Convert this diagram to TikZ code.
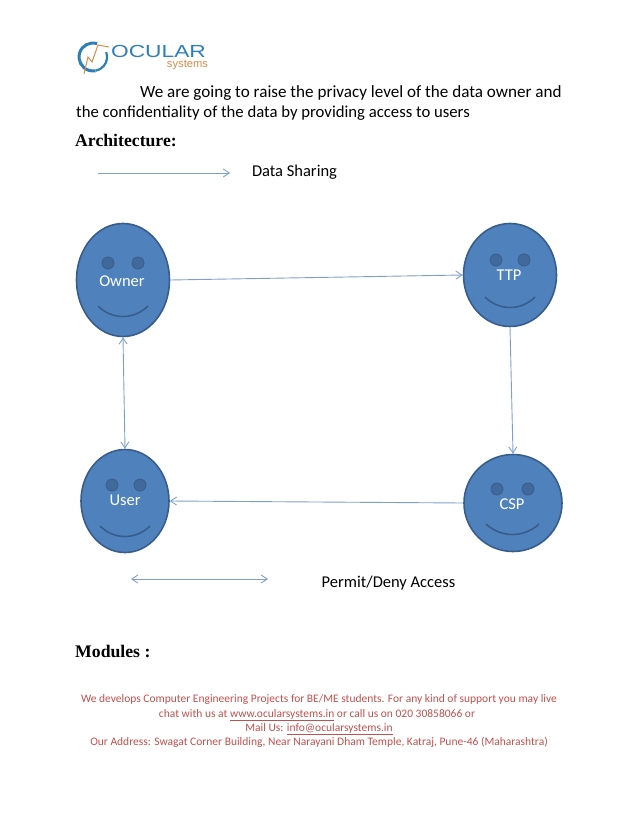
\documentclass[tikz,border=0pt]{standalone}
\usepackage{fontspec}
\setmainfont{Carlito}
\newfontfamily\headfont{Liberation Serif}
\newfontfamily\logofont{Liberation Sans}
\usetikzlibrary{shapes.geometric,arrows.meta}
\definecolor{facefill}{HTML}{4F81BD}
\definecolor{faceline}{HTML}{385D8A}
\definecolor{eyefill}{HTML}{41699B}
\definecolor{linkcol}{HTML}{7F9FCB}
\definecolor{footcol}{HTML}{C0504D}
\definecolor{logoblue}{HTML}{2C7FB8}
\definecolor{logoorange}{HTML}{D98B4A}
\tikzset{
	face/.style={ellipse,draw=faceline,fill=facefill,line width=1.6pt,inner sep=0pt},
	eye/.style={circle,draw=faceline,fill=eyefill,line width=0.8pt,minimum width=10pt,minimum height=12pt,inner sep=0pt},
	smile/.style={draw=faceline,line width=1.6pt},
	facelabel/.style={text=white,font=\fontsize{16.5}{18}\selectfont},
	link/.style={draw=linkcol,line width=0.9pt,-{Straight Barb[length=6pt,width=8pt]}},
	bothlink/.style={draw=linkcol,line width=0.9pt,{Straight Barb[length=6pt,width=8pt]}-{Straight Barb[length=6pt,width=8pt]}},
	bodyline/.style={anchor=base west,inner sep=0pt,font=\fontsize{17.1}{20}\selectfont},
	headline/.style={anchor=base west,inner sep=0pt,font=\headfont\bfseries\fontsize{17.7}{20}\selectfont},
	legendtext/.style={inner sep=0pt,font=\fontsize{16.5}{18}\selectfont},
	footline/.style={anchor=base,inner sep=0pt,text=footcol,font=\fontsize{11.5}{14}\selectfont}
}
\begin{document}
\begin{tikzpicture}[x=1pt,y=-1pt]
	\useasboundingbox (0,0) rectangle (638,826);
	% logo
	\draw [logoblue,line width=3pt] (97.1,43.6) arc (-73:-280:14);
	\draw [logoblue,line width=2.2pt] (106.2,52.2) arc (-20:80:14);
	\draw [logoorange,line width=1pt] (84,74) -- (88,57) -- (92,62) -- (98,45) -- (109,47);
	\node (logomain) at (158.5,51) [inner sep=0pt,xscale=1.3,text=logoblue,font=\logofont\fontsize{17.5}{20}\selectfont] {OCULAR};
	\node (logosub) at (187.5,65.5) [inner sep=0pt,text=logoorange,font=\logofont\fontsize{11.2}{13}\selectfont] {systems};
	% text
	\node (intro1) at (140,98) [bodyline] {We are going to raise the privacy level of the data owner and};
	\node (intro2) at (76,118) [bodyline,font=\fontsize{16.7}{20}\selectfont] {the confidentiality of the data by providing access to users};
	\node (archhead) at (75,147) [headline] {Architecture:};
	\node (modhead) at (75,657) [headline] {Modules :};
	% legend
	\coordinate (share1) at (98,173);
	\coordinate (share2) at (230,173);
	\draw [link] (share1) -- (share2);
	\node (sharetext) at (294.5,172) [legendtext] {Data Sharing};
	\coordinate (permit1) at (131,579);
	\coordinate (permit2) at (268,579);
	\draw [bothlink] (permit1) -- (permit2);
	\node (permittext) at (388.5,583) [legendtext] {Permit/Deny Access};
	% faces
	\node (owner) at (123,280) [face,minimum width=93pt,minimum height=113pt] {};
	\node (ttp) at (510,275) [face,minimum width=93pt,minimum height=103pt] {};
	\node (user) at (125,501) [face,minimum width=88pt,minimum height=103pt] {};
	\node (csp) at (513,503) [face,minimum width=98pt,minimum height=97pt] {};
	\node (ownereyel) at (108,263) [eye] {};
	\node (ownereyer) at (138,263) [eye] {};
	\node (ttpeyel) at (496,260) [eye] {};
	\node (ttpeyer) at (524,260) [eye] {};
	\node (usereyel) at (112,485) [eye] {};
	\node (usereyer) at (140,485) [eye] {};
	\node (csteyel) at (497,489) [eye] {};
	\node (csteyer) at (528,489) [eye] {};
	\draw [smile] (98,306) .. controls (112,320) and (134,320) .. (148,306);
	\draw [smile] (485,297) .. controls (499,311) and (521,311) .. (535,297);
	\draw [smile] (100,526) .. controls (114,540) and (136,540) .. (150,526);
	\draw [smile] (486,524) .. controls (501,538) and (524,538) .. (539,524);
	\node (ownertext) at (122,281) [facelabel] {Owner};
	\node (ttptext) at (509,275) [facelabel] {TTP};
	\node (usertext) at (125,500) [facelabel] {User};
	\node (csptext) at (512,504) [facelabel] {CSP};
	% links
	\draw [link] (owner.east) -- (ttp.west);
	\draw [link] (ttp.south) -- (csp.north);
	\draw [link] (csp.west) -- (user.east);
	\draw [bothlink] (owner.south) -- (user.north);
	% footer
	\node (foot1) at (319,702) [footline] {We develops Computer Engineering Projects for BE/ME students. For any kind of support you may live};
	\node (foot2) at (317,717) [footline] {chat with us at \underline{www.ocularsystems.in} or call us on 020 30858066 or};
	\node (foot3) at (319,731) [footline] {Mail Us: \underline{info@ocularsystems.in}};
	\node (foot4) at (319,745) [footline] {Our Address: Swagat Corner Building, Near Narayani Dham Temple, Katraj, Pune-46 (Maharashtra)};
\end{tikzpicture}
\end{document}
